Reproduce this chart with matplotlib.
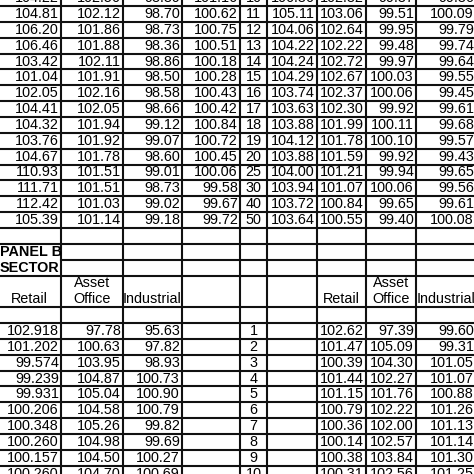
import matplotlib
matplotlib.use("Agg")
import matplotlib.pyplot as plt

plt.rcParams['font.family'] = ['Liberation Sans', 'DejaVu Sans']

# Panel A (upper, cut off at the top)
a_periods = [10, 11, 12, 13, 14, 15, 16, 17, 18, 19, 20, 25, 30, 40, 50]
a_left = [
    ["104.22", "102.56", "98.89", "101.16"],
    ["104.81", "102.12", "98.70", "100.62"],
    ["106.20", "101.86", "98.73", "100.75"],
    ["106.46", "101.88", "98.36", "100.51"],
    ["103.42", "102.11", "98.86", "100.18"],
    ["101.04", "101.91", "98.50", "100.28"],
    ["102.05", "102.16", "98.58", "100.43"],
    ["104.41", "102.05", "98.66", "100.42"],
    ["104.32", "101.94", "99.12", "100.84"],
    ["103.76", "101.92", "99.07", "100.72"],
    ["104.67", "101.78", "98.60", "100.45"],
    ["110.93", "101.51", "99.01", "100.06"],
    ["111.71", "101.51", "98.73", "99.58"],
    ["112.42", "101.03", "99.02", "99.67"],
    ["105.39", "101.14", "99.18", "99.72"],
]
a_right = [
    ["106.36", "102.82", "99.37", "99.36"],
    ["105.11", "103.06", "99.51", "100.09"],
    ["104.06", "102.64", "99.95", "99.79"],
    ["104.22", "102.22", "99.48", "99.74"],
    ["104.24", "102.72", "99.97", "99.64"],
    ["104.29", "102.67", "100.03", "99.55"],
    ["103.74", "102.37", "100.06", "99.45"],
    ["103.63", "102.30", "99.92", "99.61"],
    ["103.88", "101.99", "100.11", "99.68"],
    ["104.12", "101.78", "100.10", "99.57"],
    ["103.88", "101.59", "99.92", "99.43"],
    ["104.00", "101.21", "99.94", "99.65"],
    ["103.94", "101.07", "100.06", "99.56"],
    ["103.72", "100.84", "99.65", "99.61"],
    ["103.64", "100.55", "99.40", "100.08"],
]

# Panel B
b_periods = [1, 2, 3, 4, 5, 6, 7, 8, 9, 10]
b_retail = ["102.918", "101.202", "99.574", "99.239", "99.931", "100.206", "100.348", "100.260", "100.157", "100.260"]
b_office = ["97.78", "100.63", "103.95", "104.87", "105.04", "104.58", "105.26", "104.98", "104.50", "104.70"]
b_industrial = ["95.63", "97.82", "98.93", "100.73", "100.90", "100.79", "99.82", "99.69", "100.27", "100.69"]
b_retail2 = ["102.62", "101.47", "100.39", "101.44", "101.15", "100.79", "100.36", "100.14", "100.38", "100.31"]
b_office2 = ["97.39", "105.09", "104.30", "102.27", "101.76", "102.22", "102.00", "102.57", "103.84", "102.56"]
b_industrial2 = ["99.60", "99.31", "101.05", "101.07", "100.88", "101.26", "101.13", "101.14", "101.30", "101.25"]

W = 474
fig = plt.figure(figsize=(4.74, 4.74), dpi=100)
ax = fig.add_axes([0, 0, 1, 1])
ax.set_xlim(0, W)
ax.set_ylim(W, 0)
ax.axis('off')

cols = [-2, 61, 123, 182, 240, 267, 317, 366, 416, 476]
rh = 15.85
y0 = 14
fs = 10.4

def yc(k):
    return y0 + rh * k

def put_row(k, cells):
    for i, txt in enumerate(cells):
        if txt == "":
            continue
        if i == 4:
            ax.text((cols[4] + cols[5]) / 2, yc(k), txt, ha='center', va='center', fontsize=fs)
        else:
            ax.text(cols[i + 1] - 2, yc(k), txt, ha='right', va='center', fontsize=fs)

for r, p in enumerate(a_periods):
    put_row(r - 1, a_left[r] + [str(p)] + a_right[r])

for r, p in enumerate(b_periods):
    put_row(20 + r, [b_retail[r], b_office[r], b_industrial[r], "", str(p), "",
                     b_retail2[r], b_office2[r], b_industrial2[r]])

ax.text(0, yc(15), "PANEL B", ha='left', va='center', fontsize=fs, fontweight='bold')
ax.text(0, yc(16), "SECTOR", ha='left', va='center', fontsize=fs, fontweight='bold')
for x0, x1, lab in [(0, 1, "Retail"), (1, 2, "Office"), (2, 3, "Industrial"),
                    (6, 7, "Retail"), (7, 8, "Office"), (8, 9, "Industrial")]:
    ax.text((cols[x0] + cols[x1]) / 2, yc(18), lab, ha='center', va='center', fontsize=fs)
for x0 in (1, 7):
    ax.text((cols[x0] + cols[x0 + 1]) / 2, yc(17), "Asset", ha='center', va='center', fontsize=fs)

# grid lines
for k in range(-2, 31):
    if k == 17:
        continue
    y = yc(k) + rh / 2
    if k == 15:
        ax.plot([cols[1], W], [y, y], color='#111', lw=1.5)
    else:
        ax.plot([0, W], [y, y], color='#111', lw=1.5)
for x in cols[1:-1]:
    ax.plot([x, x], [0, W], color='#111', lw=1.5)

fig.savefig("out.png", dpi=100)
